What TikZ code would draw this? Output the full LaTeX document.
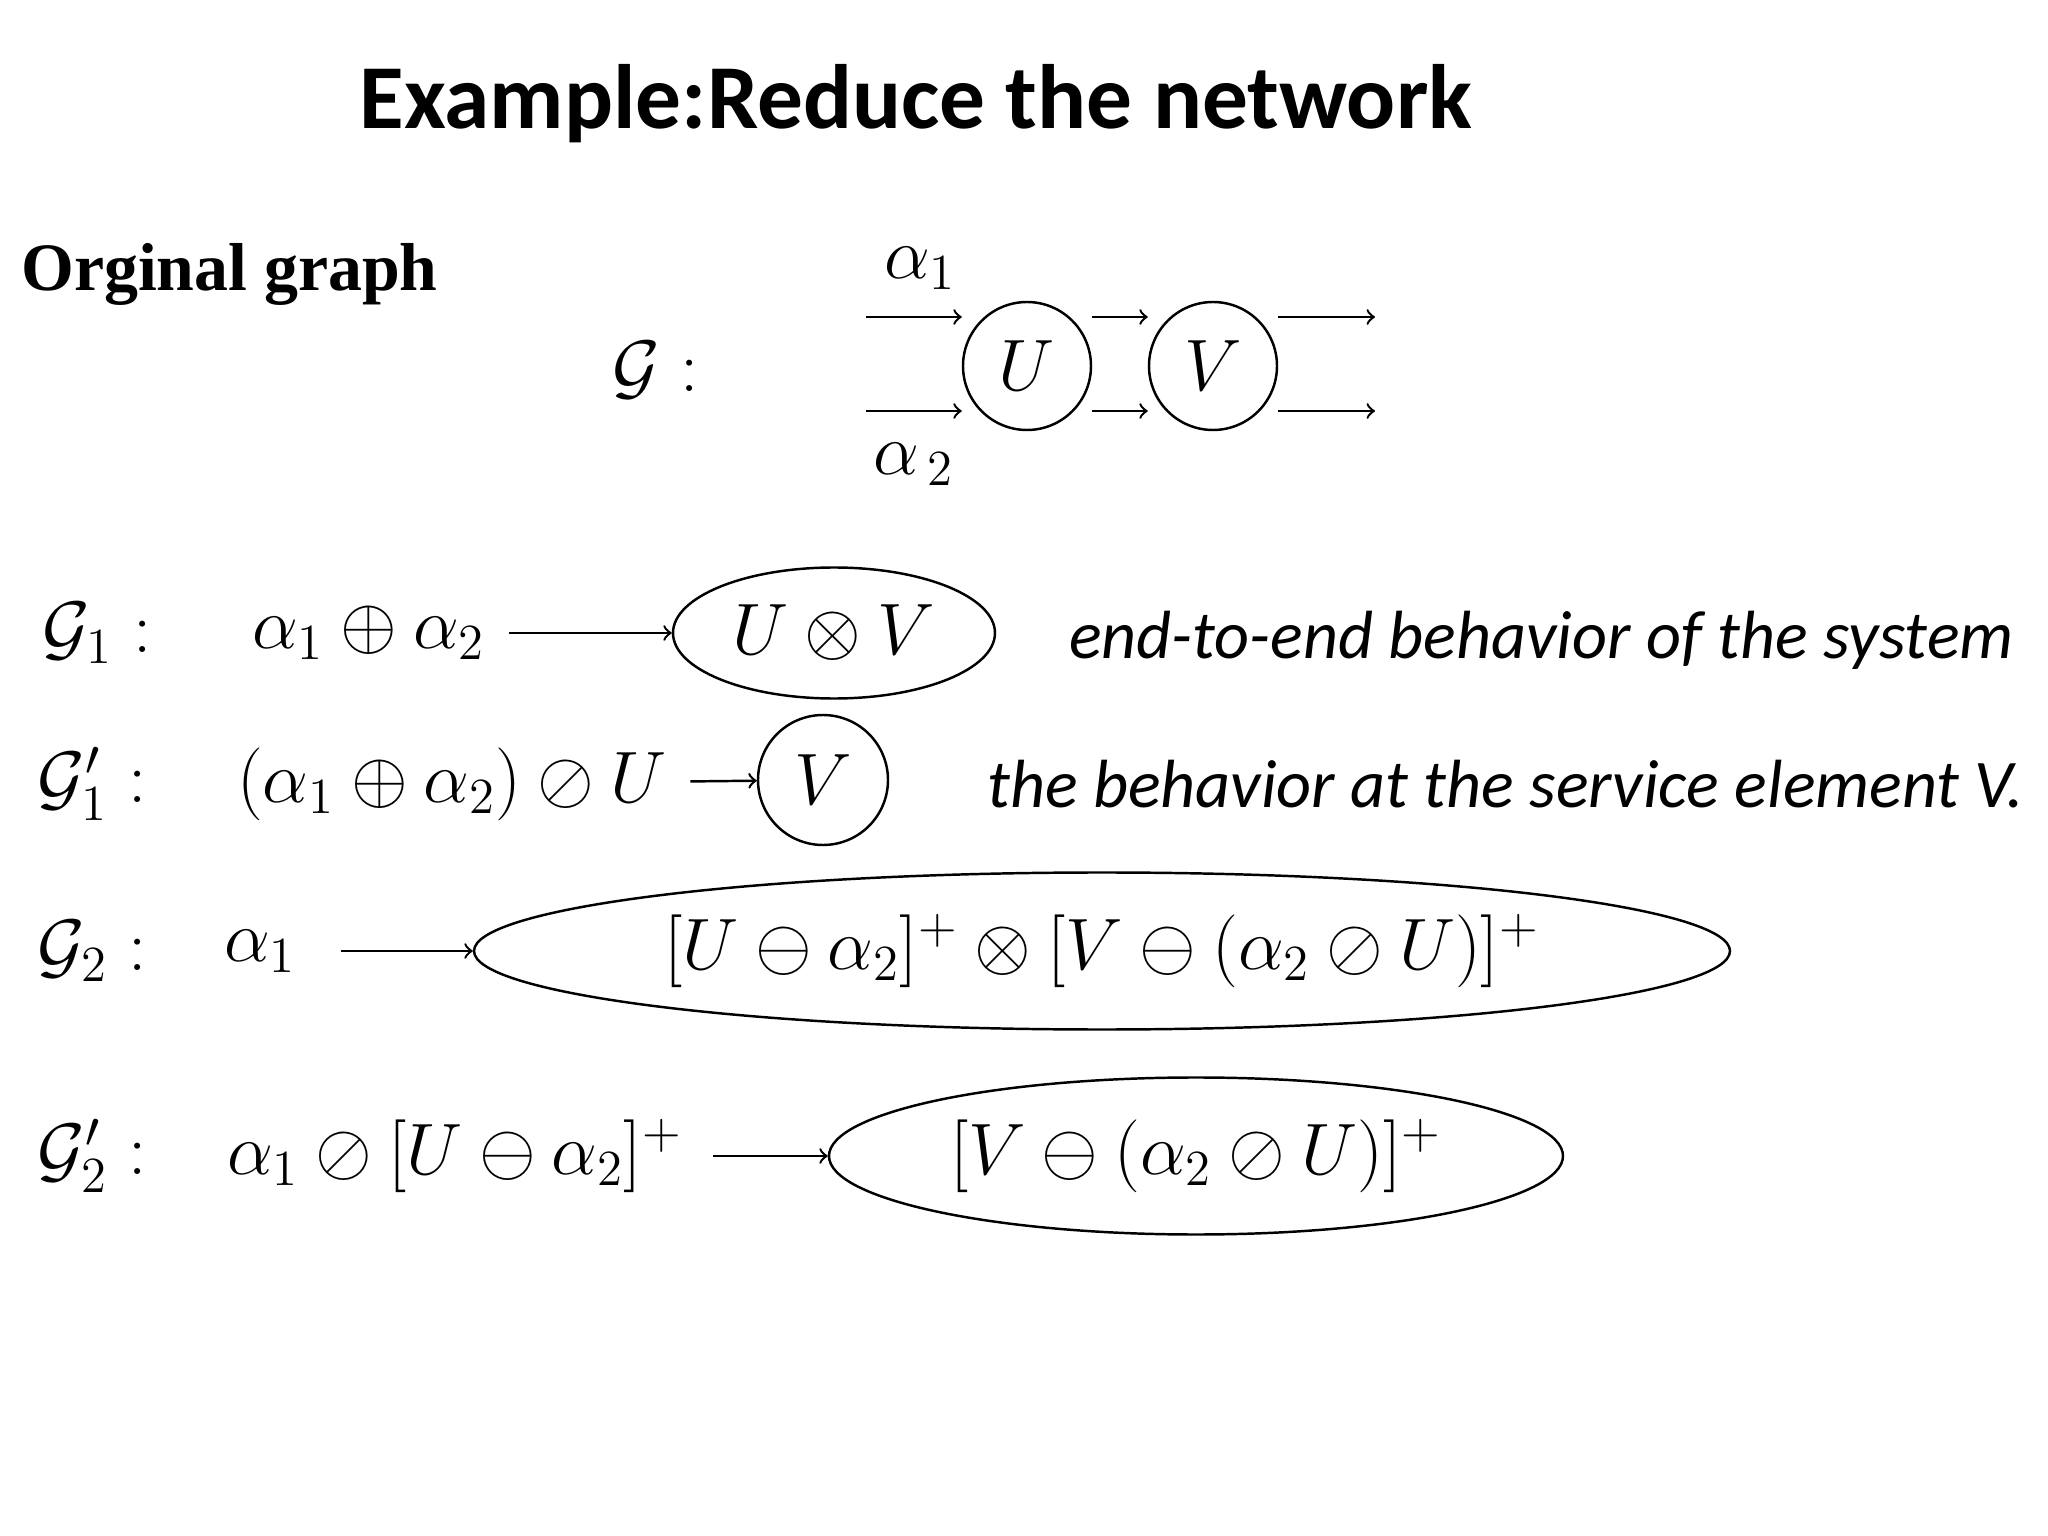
\documentclass[tikz,border=0pt]{standalone}
\usepackage{fontspec}
\usepackage{tikz}
\usetikzlibrary{shapes, positioning}
\newfontfamily\titlefont{Carlito}
\newfontfamily\headfont{Liberation Serif}

\begin{document}
\begin{tikzpicture}[line width=0.7pt,
    mathtxt/.style={font=\fontsize{21}{25}\selectfont},
    note/.style={anchor=west, inner sep=0pt, font=\titlefont\itshape\fontsize{19.4}{23}\selectfont},
    elem/.style={circle, draw, inner sep=0pt, mathtxt},
    oval/.style={ellipse, draw, inner sep=0pt, minimum height=1.57cm, mathtxt}]
          \useasboundingbox (0,0) rectangle (20.48,-15.36);

          \node (title) at (9.16,-1.04) {\titlefont\bfseries\fontsize{26}{30}\selectfont Example:Reduce the network};
          \node[anchor=west, inner sep=0pt] (orig) at (0.20,-2.74) {\headfont\bfseries\fontsize{19.3}{23}\selectfont Orginal graph};

          % original graph
          \node[mathtxt] (G) at (6.56,-3.70) {$\mathcal{G}:$};
          \node[elem, minimum size=1.28cm] (U) at (10.27,-3.66) {$U$};
          \node[elem, minimum size=1.28cm] (V) at (12.13,-3.66) {$V$};
          \coordinate (in1) at (8.66,-3.17);
          \coordinate (in2) at (8.66,-4.11);
          \coordinate (out1) at (13.75,-3.17);
          \coordinate (out2) at (13.75,-4.11);
          \node[mathtxt] (a1) at (9.20,-2.68) {$\alpha_1$};
          \node[mathtxt] (a2) at (9.14,-4.64) {$\alpha_{\,2}$};

          \draw[->] (in1) -- (in1 -| U.west);
          \draw[->] (in2) -- (in2 -| U.west);
          \draw[->] (U.east |- in1) -- (V.west |- in1);
          \draw[->] (U.east |- in2) -- (V.west |- in2);
          \draw[->] (V.east |- in1) -- (out1);
          \draw[->] (V.east |- in2) -- (out2);

          % G1
          \node[mathtxt, anchor=west] (G1) at (0.30,-6.33) {$\mathcal{G}_1:$};
          \node[mathtxt] (in1sum) at (3.69,-6.33) {$\alpha_1 \oplus \alpha_2$};
          \node[oval, minimum width=3.22cm, minimum height=1.31cm] (UV) at (8.34,-6.33) {$U \otimes V$};
          \draw[->, shorten <=3pt] (in1sum) -- (UV);
          \node[note] (n1) at (10.68,-6.40) {end-to-end behavior of the system};

          % G1'
          \node[mathtxt, anchor=west] (G1p) at (0.25,-7.84) {$\mathcal{G}'_1:$};
          \node[mathtxt] (in1p) at (4.52,-7.84) {$(\alpha_1 \oplus \alpha_2) \oslash U$};
          \node[elem, minimum size=1.30cm] (V1) at (8.23,-7.80) {$V$};
          \draw[->, shorten <=3pt] (in1p) -- (V1);
          \node[note] (n2) at (9.86,-7.84) {the behavior at the service element V.};

          % G2
          \node[mathtxt, anchor=west] (G2) at (0.25,-9.51) {$\mathcal{G}_2:$};
          \node[mathtxt] (in2a) at (2.60,-9.51) {$\alpha_1$};
          \node[oval, minimum width=12.56cm, font=\fontsize{20}{24}\selectfont] (big) at (11.02,-9.51) {$[U \ominus \alpha_2]^+ \otimes [V \ominus (\alpha_2 \oslash U)]^+$};
          \draw[->, shorten <=9pt] (in2a) -- (big);

          % G2'
          \node[mathtxt, anchor=west] (G2p) at (0.25,-11.56) {$\mathcal{G}'_2:$};
          \node[mathtxt] (in2p) at (4.55,-11.56) {$\alpha_1 \oslash [U \ominus \alpha_2]^+$};
          \node[oval, minimum width=7.34cm] (rest) at (11.96,-11.56) {$[V \ominus (\alpha_2 \oslash U)]^+$};
          \draw[->, shorten <=5pt] (in2p) -- (rest);
        \end{tikzpicture}
\end{document}
